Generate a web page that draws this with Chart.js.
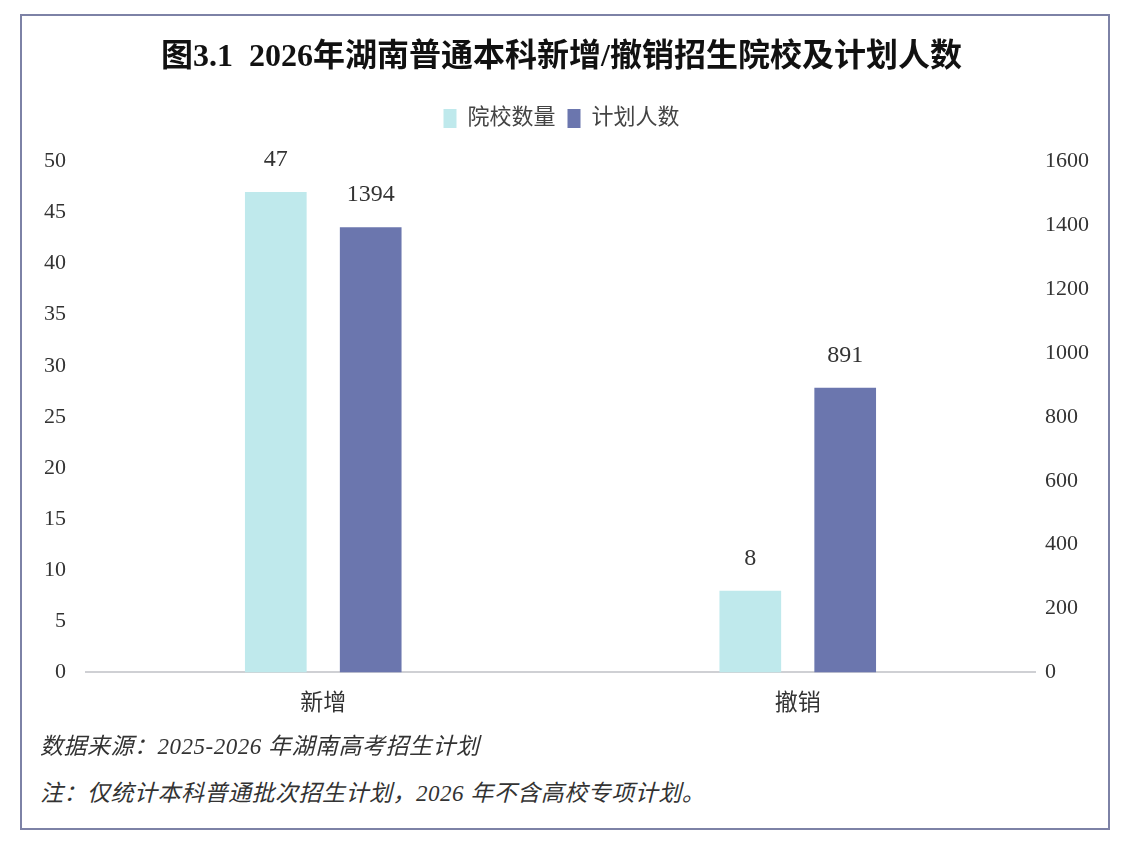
<!DOCTYPE html>
<html>
<head>
<meta charset="utf-8">
<script src="https://cdn.jsdelivr.net/npm/chart.js@4"></script>
<style>
  body { margin: 0; background: #fff; }
  #frame {
    position: absolute; left: 20px; top: 14px;
    width: 1086px; height: 812px;
    border: 2px solid #7d82a6;
  }
  #wrap { position: absolute; left: 20px; top: 14px; width: 1090px; height: 722px; }
  .note {
    position: absolute; left: 40px;
    font-family: "Liberation Serif", "Noto Sans CJK SC", serif;
    font-style: italic; font-size: 23px; letter-spacing: 0.5px; color: #333;
  }
</style>
</head>
<body>
<div id="frame"></div>
<div id="wrap"><canvas id="grafico"></canvas></div>
<div class="note" style="top:727px">数据来源：2025-2026 年湖南高考招生计划</div>
<div class="note" style="top:774px">注：仅统计本科普通批次招生计划，2026 年不含高校专项计划。</div>
<script>
// categorias e valores
const categorias = ['新增', '撤销'];
const qtdEscolas = [47, 8];
const qtdPlano = [1394, 891];
const ticksEsquerda = [0, 50, 5];
const ticksDireita = [0, 1600, 200];

const fonteSerif = '"Liberation Serif", "Noto Sans CJK SC", serif';

// desenha o valor acima de cada barra
const rotulos = {
    id: 'rotulos',
    afterDatasetsDraw(chart) {
        const ctx = chart.ctx;
        ctx.save();
        ctx.font = '24px ' + fonteSerif;
        ctx.fillStyle = '#333';
        ctx.textAlign = 'center';
        ctx.textBaseline = 'bottom';
        chart.data.datasets.forEach((ds, i) => {
            chart.getDatasetMeta(i).data.forEach((bar, j) => {
                ctx.fillText(ds.data[j], bar.x, bar.y - 20);
            });
        });
        ctx.restore();
    }
};

// mais espaço entre a legenda e o gráfico
const espacoLegenda = {
    id: 'espacoLegenda',
    beforeInit(chart) {
        const fitOriginal = chart.legend.fit;
        chart.legend.fit = function () {
            fitOriginal.bind(chart.legend)();
            this.height += 22;
        };
    }
};

new Chart(document.getElementById('grafico'), {
    type: 'bar',
    data: {
        labels: categorias,
        datasets: [{
            label: '院校数量',
            data: qtdEscolas,
            backgroundColor: '#bfe9ec',
            yAxisID: 'y',
            categoryPercentage: 0.4,
            barPercentage: 0.65
        }, {
            label: '计划人数',
            data: qtdPlano,
            backgroundColor: '#6b76ae',
            yAxisID: 'y1',
            categoryPercentage: 0.4,
            barPercentage: 0.65
        }]
    },
    options: {
        responsive: true,
        maintainAspectRatio: false,
        animation: false,
        layout: { padding: { left: 4, right: 11, top: 10, bottom: 0 } },
        plugins: {
            title: {
                display: true,
                text: '图3.1  2026年湖南普通本科新增/撤销招生院校及计划人数',
                color: '#111',
                font: { family: fonteSerif, size: 32, weight: 'bold' },
                padding: { top: 15, bottom: 18 }
            },
            legend: {
                labels: {
                    color: '#444',
                    font: { family: fonteSerif, size: 22 },
                    boxWidth: 13,
                    boxHeight: 19,
                    padding: 12
                }
            },
            tooltip: { enabled: false }
        },
        scales: {
            x: {
                grid: { display: false, drawTicks: false },
                border: { display: true, color: '#cfd0d4', width: 2 },
                ticks: { color: '#333', font: { family: fonteSerif, size: 23 }, padding: 18 }
            },
            y: {
                position: 'left',
                min: ticksEsquerda[0],
                max: ticksEsquerda[1],
                grid: { display: false, drawTicks: false },
                border: { display: false },
                ticks: { stepSize: ticksEsquerda[2], color: '#333', font: { family: fonteSerif, size: 22 }, padding: 20 }
            },
            y1: {
                position: 'right',
                min: ticksDireita[0],
                max: ticksDireita[1],
                grid: { display: false, drawTicks: false },
                border: { display: false },
                ticks: {
                    stepSize: ticksDireita[2],
                    color: '#333',
                    font: { family: fonteSerif, size: 22 },
                    padding: 10,
                    callback: valor => String(valor)
                }
            }
        }
    },
    plugins: [rotulos, espacoLegenda]
});
</script>
</body>
</html>
